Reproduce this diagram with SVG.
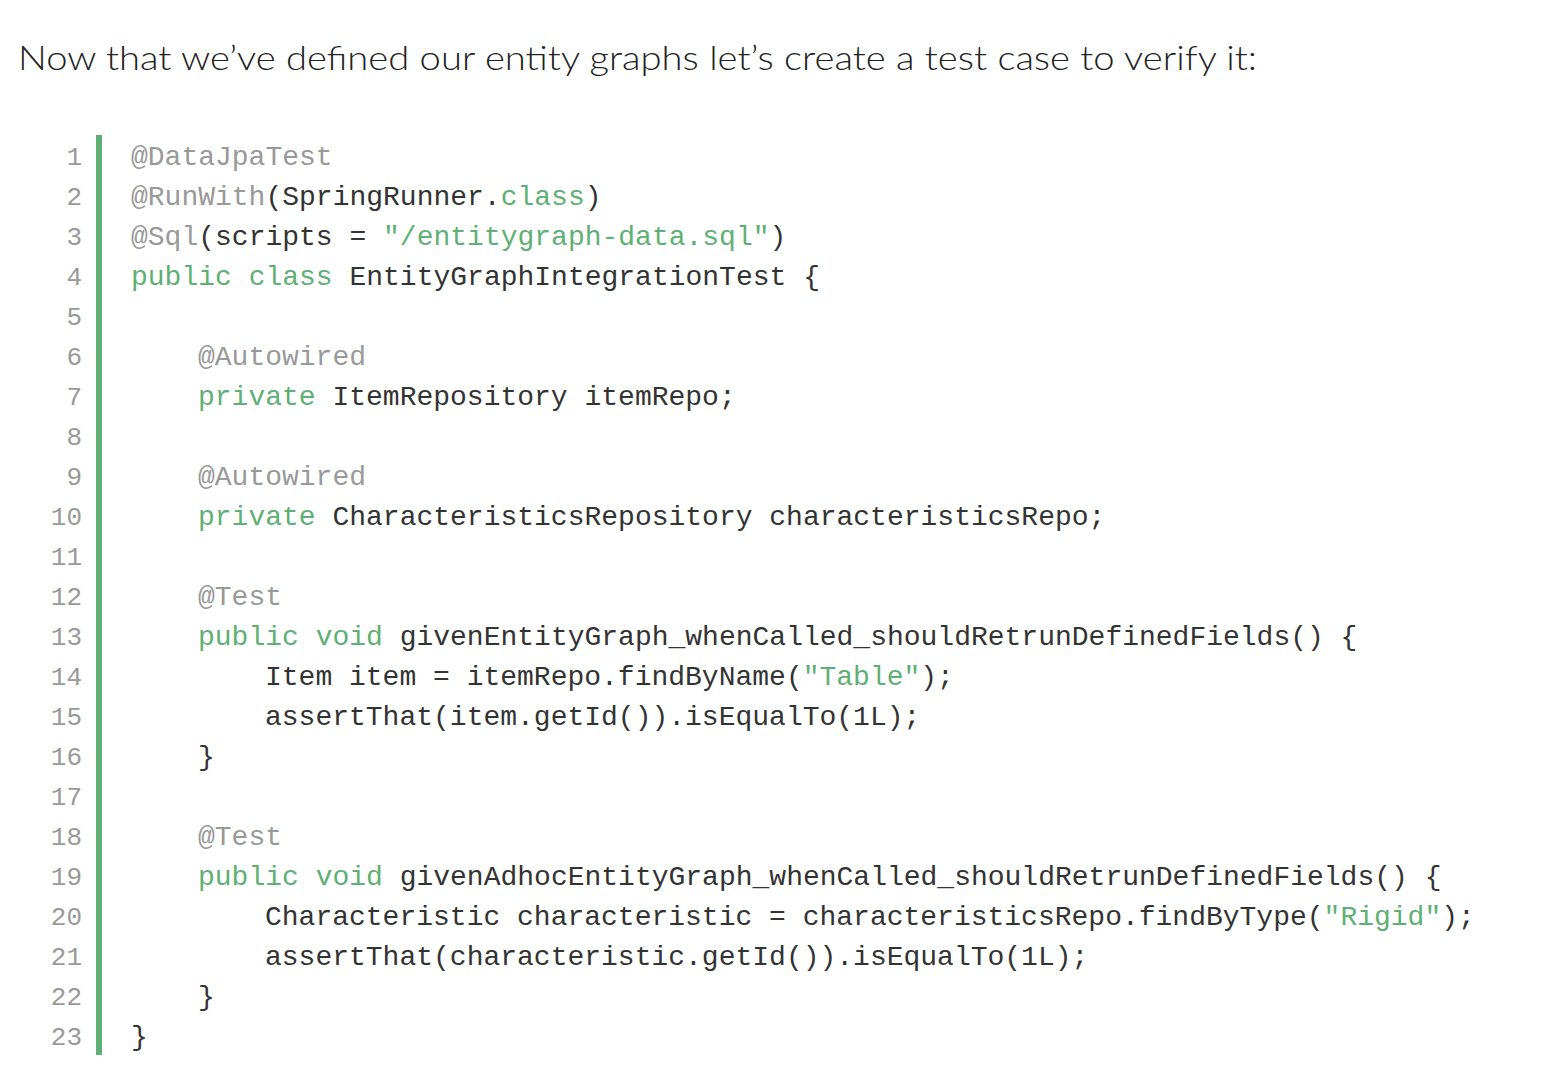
<svg xmlns="http://www.w3.org/2000/svg" width="1554" height="1092" viewBox="0 0 1554 1092">
<style>
.h{font-family:Lato,"Open Sans",sans-serif;font-size:34px;font-weight:300;fill:#222}
.c{font-family:"Liberation Mono",monospace;font-size:28px;fill:#333;white-space:pre}
.n{font-family:"Liberation Mono",monospace;font-size:26px;fill:#999;text-anchor:end}
.a{fill:#999}.k{fill:#5fb074}.s{fill:#5fb074}
</style>
<rect width="1554" height="1092" fill="#fff"/>
<text class="h" x="18" y="70" textLength="1239" lengthAdjust="spacingAndGlyphs">Now that we’ve defined our entity graphs let’s create a test case to verify it:</text>
<rect x="96" y="135" width="6" height="920" fill="#5fb074"/>
<g class="n">
<text x="82" y="165">1</text><text x="82" y="205">2</text><text x="82" y="245">3</text><text x="82" y="285">4</text><text x="82" y="325">5</text><text x="82" y="365">6</text><text x="82" y="405">7</text><text x="82" y="445">8</text><text x="82" y="485">9</text><text x="82" y="525">10</text><text x="82" y="565">11</text><text x="82" y="605">12</text><text x="82" y="645">13</text><text x="82" y="685">14</text><text x="82" y="725">15</text><text x="82" y="765">16</text><text x="82" y="805">17</text><text x="82" y="845">18</text><text x="82" y="885">19</text><text x="82" y="925">20</text><text x="82" y="965">21</text><text x="82" y="1005">22</text><text x="82" y="1045">23</text>
</g>
<g class="c" xml:space="preserve">
<text x="131" y="165"><tspan class="a">@DataJpaTest</tspan></text>
<text x="131" y="205"><tspan class="a">@RunWith</tspan>(SpringRunner.<tspan class="k">class</tspan>)</text>
<text x="131" y="245"><tspan class="a">@Sql</tspan>(scripts = <tspan class="s">"/entitygraph-data.sql"</tspan>)</text>
<text x="131" y="285"><tspan class="k">public</tspan> <tspan class="k">class</tspan> EntityGraphIntegrationTest {</text>
<text x="198" y="365"><tspan class="a">@Autowired</tspan></text>
<text x="198" y="405"><tspan class="k">private</tspan> ItemRepository itemRepo;</text>
<text x="198" y="485"><tspan class="a">@Autowired</tspan></text>
<text x="198" y="525"><tspan class="k">private</tspan> CharacteristicsRepository characteristicsRepo;</text>
<text x="198" y="605"><tspan class="a">@Test</tspan></text>
<text x="198" y="645"><tspan class="k">public</tspan> <tspan class="k">void</tspan> givenEntityGraph_whenCalled_shouldRetrunDefinedFields() {</text>
<text x="265" y="685">Item item = itemRepo.findByName(<tspan class="s">"Table"</tspan>);</text>
<text x="265" y="725">assertThat(item.getId()).isEqualTo(1L);</text>
<text x="198" y="765">}</text>
<text x="198" y="845"><tspan class="a">@Test</tspan></text>
<text x="198" y="885"><tspan class="k">public</tspan> <tspan class="k">void</tspan> givenAdhocEntityGraph_whenCalled_shouldRetrunDefinedFields() {</text>
<text x="265" y="925">Characteristic characteristic = characteristicsRepo.findByType(<tspan class="s">"Rigid"</tspan>);</text>
<text x="265" y="965">assertThat(characteristic.getId()).isEqualTo(1L);</text>
<text x="198" y="1005">}</text>
<text x="131" y="1045">}</text>
</g>
</svg>
